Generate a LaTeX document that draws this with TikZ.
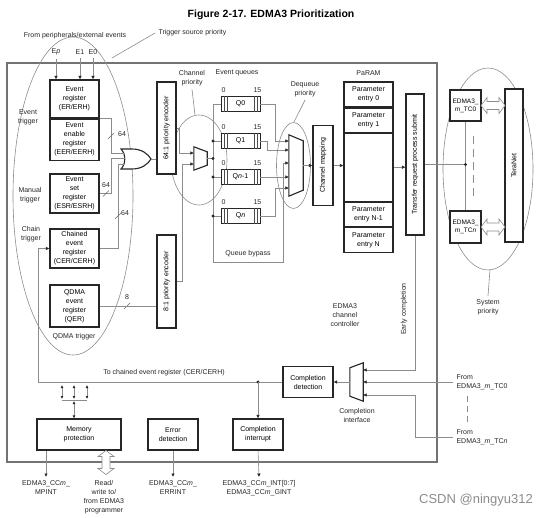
\documentclass[tikz,border=0pt]{standalone}
\usepackage{fontspec}
\usepackage{graphicx}
\setmainfont{Liberation Sans}
\usetikzlibrary{arrows.meta,calc}
\newcommand{\figfont}{\fontsize{7}{9}\selectfont}

\tikzset{
  reg/.style={draw=black!85, line width=1.1pt, fill=white, align=center, inner sep=1pt},
  wire/.style={draw=black!45, line width=0.6pt},
  arr/.style={wire, -{Latex[length=3.5pt,width=3.5pt,color=black!85]}},
  dbl/.style={wire, {Latex[length=3pt,width=3pt,color=black!85]}-{Latex[length=3pt,width=3pt,color=black!85]}},
  prio/.style={draw=black!45, line width=0.6pt},
  txt/.style={align=center, text=black!85},
  mux/.style={draw=black!85, line width=1.1pt, fill=white},
  buscut/.pic={\draw[black!60, line width=0.6pt] (-3,3) -- (3,-3);},
  hollowlink/.pic={\draw[black!45, fill=white, line width=0.6pt] (-12,0) -- (-6,-8) -- (-6,-4) -- (6,-4) -- (6,-8)
      -- (12,0) -- (6,8) -- (6,4) -- (-6,4) -- (-6,8) -- cycle;},
}

\begin{document}
\begin{tikzpicture}[x=1pt, y=-1pt, every node/.style={font=\figfont}]
    \useasboundingbox (0,0) rectangle (554,518);

    % Title and frame
    \node[font=\fontsize{10.5}{12}\selectfont\bfseries] (title) at (271,15) {Figure 2-17. EDMA3 Prioritization};
    \draw[black!55, line width=1.2pt] (7,63) rectangle (437,462);

    % Priority ellipses
    \draw[prio] (73,196) ellipse [x radius=60, y radius=159];
    \draw[prio] (199,160) ellipse [x radius=28, y radius=45];
    \draw[prio] (293.5,165.5) ellipse [x radius=17, y radius=43];
    \draw[prio] (488,169) ellipse [x radius=45, y radius=101];

    % Trigger sources
    \node[txt] (periph) at (75,36) {From peripherals/external events};
    \node[txt, anchor=west] (trgprio) at (155,33) {Trigger source priority};
    \draw[prio] (trgprio.west) -- (112,58);
    \node[reg, minimum width=49, minimum height=38] (er) at (74.5,99) {Event\\register\\(ER/ERH)};
    \node[reg, minimum width=49, minimum height=41, anchor=north] (eer) at (er.south) {Event\\enable\\register\\(EER/EERH)};
    \node[reg, minimum width=49, minimum height=39] (esr) at (74.5,193.5) {Event\\set\\register\\(ESR/ESRH)};
    \node[reg, minimum width=49, minimum height=39] (cer) at (74.5,248.5) {Chained\\event\\register\\(CER/CERH)};
    \node[reg, minimum width=49, minimum height=42] (qer) at (74.5,306) {QDMA\\event\\register\\(QER)};
    \node[txt] (evtrig) at (28,117) {Event\\trigger};
    \node[txt] (mantrig) at (30,195) {Manual\\trigger};
    \node[txt] (chtrig) at (31,234) {Chain\\trigger};
    \node[txt] (qtrig) at (74,337) {QDMA trigger};
    \foreach \e/\x/\t in {ep/56/E\textit{p}, e1/80/E1, e0/93/E0} {
        \node[txt] (\e) at (\x,52) {\t};
        \draw[arr] (\e.south) -- (\e.south |- er.north);
    }

    % OR gate
    \draw[mux] (121,149) -- (132,149) .. controls (142,149) and (148,154) .. (151,159)
        .. controls (148,164) and (142,169) .. (132,169) -- (121,169)
        .. controls (126,164) and (126,154) .. (121,149) -- cycle;
    \coordinate (orout) at (151,159);
    \coordinate (orin1) at (124,153);
    \coordinate (orin2) at (125,158.5);
    \coordinate (orin3) at (124,164);
    \draw[wire] (er.south east) -- ++(12,0) |- (orin1);
    \draw[wire] (esr.east) -- ++(12,0) |- (orin2);
    \draw[wire] (cer.east) -- ++(19,0) |- (orin3);
    \pic at (111,136) {buscut};   \node[txt] (w64a) at (122,134) {64};
    \pic at (106,193.5) {buscut}; \node[txt] (w64b) at (106,185) {64};
    \pic at (118,216) {buscut};   \node[txt] (w64c) at (125,213) {64};
    \pic at (127,306) {buscut};   \node[txt] (w8) at (127,297) {8};

    % Priority encoders
    \node[reg, minimum width=19, minimum height=92] (enc64) at (166.5,128) {\rotatebox{90}{64:1 priority encoder}};
    \node[reg, minimum width=19, minimum height=93] (enc8) at (166.5,281.5) {\rotatebox{90}{8:1 priority encoder}};
    \draw[wire] (orout) -- (orout -| enc64.west);
    \draw[wire] (qer.east) -- (qer.east -| enc8.west);

    % Channel priority
    \node[txt] (chprio) at (192,78) {Channel\\priority};
    \draw[prio] (chprio.south) -- (195,115);
    \node[minimum width=13, minimum height=23, inner sep=0] (chmux) at (200.5,158.5) {};
    \draw[mux] (chmux.north west) -- ([yshift=-5pt]chmux.north east) -- ([yshift=5pt]chmux.south east) -- (chmux.south west) -- cycle;
    \draw[arr] (enc64.east) -- ++(3,0) |- ([yshift=5.5pt]chmux.west);
    \draw[arr] (enc8.east) -- ++(6,0) |- ([yshift=-5.5pt]chmux.west);

    % Event queues
    \node[txt] (evq) at (237,73) {Event queues};
    \foreach \q/\y/\t in {q0/104/Q0, q1/141/Q1, qn1/177/Q\textit{n}-1, qn/216/Q\textit{n}} {
        \node[reg, line width=0.9pt, minimum width=39, minimum height=15] (\q) at (240.5,\y) {\t};
        \foreach \dx in {3.5,6.5} {
            \draw[black!70] ([xshift=\dx]\q.north west) -- ([xshift=\dx]\q.south west);
            \draw[black!70] ([xshift=-\dx]\q.north east) -- ([xshift=-\dx]\q.south east);
        }
        \node[txt] (\q-lo) at ([xshift=3,yshift=6]\q.north west) {0};
        \node[txt] (\q-hi) at ([xshift=-3,yshift=6]\q.north east) {15};
    }
    \coordinate (bus) at (213,0);
    \coordinate (qbyp) at (283,262);
    \node[txt] (bypass) at (248,254) {Queue bypass};

    % Dequeue priority
    \node[txt] (dqprio) at (305,89) {Dequeue\\priority};
    \draw[prio] (dqprio.south) -- (294,122);
    \node[minimum width=14, minimum height=61, inner sep=0] (dqmux) at (296,165.5) {};
    \draw[mux] (dqmux.north west) -- ([yshift=-6pt]dqmux.north east) -- ([yshift=6pt]dqmux.south east) -- (dqmux.south west) -- cycle;
    \draw[arr] (q0.west) -- (q0.west -| bus) |- (qbyp) |- ([yshift=2.5pt]dqmux.west);
    \draw[wire] (chmux.east) -- (chmux.east -| bus);
    \foreach \q in {q1,qn1,qn} \draw[wire] (\q.west -| bus) -- (\q.west);
    \foreach \q in {q1,qn1,qn,chmux} \fill[black!85] (\q.west -| bus) circle (1.6pt);
    \draw[arr] (q0.east) -- ++(15,0) |- ([yshift=24.5pt]dqmux.west);
    \draw[arr] (q1.east) -- ++(7,0) |- ([yshift=15.5pt]dqmux.west);
    \draw[arr] (qn1.east) -- ([yshift=-11.5pt]dqmux.west);
    \draw[arr] (qn.east) -- ++(15,0) |- ([yshift=-22.5pt]dqmux.west);

    % Channel mapping and PaRAM
    \node[reg, minimum width=20, minimum height=80] (chmap) at (323,165.5) {\rotatebox{90}{Channel mapping}};
    \draw[arr] (dqmux.east) -- (dqmux.east -| chmap.west);
    \node[txt] (paramt) at (368.5,73) {PaRAM};
    \node[reg, minimum width=49, minimum height=25] (p0) at (368.5,94.5) {Parameter\\entry 0};
    \node[reg, minimum width=49, minimum height=24, anchor=north] (p1) at (p0.south) {Parameter\\entry 1};
    \node[reg, minimum width=49, minimum height=68, anchor=north] (pmid) at (p1.south) {};
    \node[reg, minimum width=49, minimum height=24, anchor=north] (pn1) at (pmid.south) {Parameter\\entry N-1};
    \node[reg, minimum width=49, minimum height=25, anchor=north] (pn) at (pn1.south) {Parameter\\entry N};
    \draw[arr] (chmap.east) -- (chmap.east -| pmid.west);
    \node[reg, minimum width=18, minimum height=141] (treq) at (415,164.5) {\rotatebox{90}{Transfer request process submit}};
    \draw[arr] (pmid.east) -- (pmid.east -| treq.west);

    % Transfer controllers and TeraNet
    \node[reg, minimum width=31, minimum height=31, font=\fontsize{6.5}{8}\selectfont] (tc0) at (465.5,105.5) {EDMA3\_\\\textit{m}\_TC0};
    \node[reg, minimum width=31, minimum height=32, font=\fontsize{6.5}{8}\selectfont] (tcn) at (465.5,227) {EDMA3\_\\\textit{m}\_TC\textit{n}};
    \node[reg, minimum width=18, minimum height=153] (tera) at (514,165.5) {\rotatebox{90}{TeraNet}};
    \coordinate (tcjoin) at (tc0.south |- treq.east);
    \draw[wire] (treq.east) -- (tcjoin);
    \draw[wire] (tc0.south) -- (tcn.north);
    \fill[black!85] (tcjoin) circle (1.6pt);
    \draw[wire, dash pattern=on 8pt off 5pt] ([xshift=7.5,yshift=-14]tc0.south) -- ([xshift=7.5,yshift=14]tcn.north);
    \pic (link0) at ($(tc0.east)!0.5!(tc0.east -| tera.west)$) {hollowlink};
    \pic (linkn) at ($(tcn.east)!0.5!(tcn.east -| tera.west)$) {hollowlink};
    \node[txt] (sysprio) at (488,307) {System\\priority};
    \draw[prio] (sysprio.north) -- (490,270);

    % Completion path
    \node[txt] (ctrl) at (345,315) {EDMA3\\channel\\controller};
    \node[txt, rotate=90] (early) at (404,309) {Early completion};
    \node[reg, minimum width=50, minimum height=31] (cdet) at (308,382) {Completion\\detection};
    \node[minimum width=13, minimum height=38, inner sep=0] (cimux) at (356.5,382) {};
    \draw[mux] ([yshift=-5pt]cimux.north west) -- (cimux.north east) -- (cimux.south east) -- ([yshift=5pt]cimux.south west) -- cycle;
    \node[txt] (citxt) at (357,415) {Completion\\interface};
    \draw[arr] (cimux.west) -- (cimux.west -| cdet.east);
    \draw[arr] (treq.south) |- ([yshift=12pt]cimux.east);
    \node[txt, align=left, anchor=west] (ftc0) at (453,382) {From\\EDMA3\_\textit{m}\_TC0};
    \node[txt, align=left, anchor=west] (ftcn) at (453,437) {From\\EDMA3\_\textit{m}\_TC\textit{n}};
    \draw[arr] (ftc0.west) -- (cimux.east);
    \draw[arr] (ftcn.west) -- (ftcn.west -| treq.south) |- ([yshift=-13pt]cimux.east);
    \draw[wire, dash pattern=on 6pt off 4pt] ([xshift=14,yshift=-3]ftc0.south west) -- ([xshift=14,yshift=3]ftcn.north west);

    % Bottom blocks
    \node[reg, minimum width=84, minimum height=31] (mem) at (79,434.5) {Memory\\protection};
    \node[reg, minimum width=50, minimum height=31] (errd) at (173,434.5) {Error\\detection};
    \node[reg, minimum width=50, minimum height=31] (compint) at (258,434.5) {Completion\\interrupt};
    \coordinate (chainx) at (38,382);
    \node[txt] (tocer) at (164,373) {To chained event register (CER/CERH)};
    \draw[arr] (cdet.west) -- (chainx) |- (cer.west);
    \coordinate (cijoin) at (compint.north |- cdet.west);
    \fill[black!85] (cijoin) circle (1.6pt);
    \draw[arr] (cijoin) -- (compint.north);
    \foreach \x in {62,74,87} \draw[dbl] (\x,385) -- (\x,399);
    \draw[wire] (62,400) -- (87,400);
    \draw[dbl] (74,401) -- (74,0 |- mem.north);

    % Outputs
    \node[txt, anchor=north] (mpint) at (46,477) {EDMA3\_CC\textit{m}\_\\MPINT};
    \draw[arr] (mem.south -| mpint.north) -- (mpint.north);
    \pic[rotate=90] (rw) at (106,462.5) {hollowlink};
    \node[txt, anchor=north] (rwtxt) at (104,477) {Read/\\write to/\\from EDMA3\\programmer};
    \node[txt, anchor=north] (errint) at (173,477) {EDMA3\_CC\textit{m}\_\\ERRINT};
    \draw[arr] (errd.south) -- (errint.north);
    \node[txt, anchor=north] (ccint) at (259,477) {EDMA3\_CC\textit{m}\_INT[0:7]\\EDMA3\_CC\textit{m}\_GINT};
    \draw[arr] (compint.south) -- (ccint.north);

    \node[text=black!45, font=\fontsize{13}{15}\selectfont] (wm) at (476,500) {CSDN @ningyu312};
\end{tikzpicture}
\end{document}
